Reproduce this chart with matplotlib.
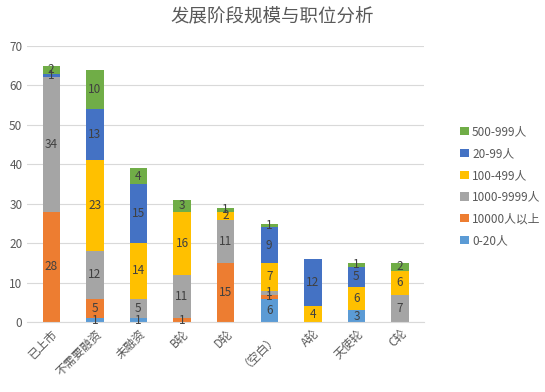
import matplotlib
matplotlib.use("Agg")
import matplotlib.pyplot as plt
import numpy as np

plt.rcParams['font.family'] = ['Noto Sans CJK SC', 'DejaVu Sans']

categories = ['已上市', '不需要融资', '未融资', 'B轮', 'D轮', '（空白）', 'A轮', '天使轮', 'C轮']
series_names = ['0-20人', '10000人以上', '1000-9999人', '100-499人', '20-99人', '500-999人']
s_0_20 = [0, 1, 1, 0, 0, 6, 0, 3, 0]
s_10000 = [28, 5, 0, 1, 15, 1, 0, 0, 0]
s_1000_9999 = [34, 12, 5, 11, 11, 1, 0, 0, 7]
s_100_499 = [0, 23, 14, 16, 2, 7, 4, 6, 6]
s_20_99 = [1, 13, 15, 0, 0, 9, 12, 5, 0]
s_500_999 = [2, 10, 4, 3, 1, 1, 0, 1, 2]
colors = ['#5B9BD5', '#ED7D31', '#A5A5A5', '#FFC000', '#4472C4', '#70AD47']

series = [s_0_20, s_10000, s_1000_9999, s_100_499, s_20_99, s_500_999]

fig = plt.figure(figsize=(5.45, 3.92), dpi=100)
ax = fig.add_axes([0.05, 0.178, 0.728, 0.705])
x = np.arange(len(categories))
bottom = np.zeros(len(categories))
handles = []
for name, vals, c in zip(series_names, series, colors):
    vals = np.array(vals, dtype=float)
    bars = ax.bar(x, vals, 0.4, bottom=bottom, color=c, label=name)
    handles.append(bars)
    for xi, v, b in zip(x, vals, bottom):
        if v > 0:
            ax.text(xi, b + v / 2, f'{int(v)}', ha='center', va='center',
                    fontsize=8.5, color='#404040')
    bottom += vals

ax.set_ylim(0, 70)
ax.set_xlim(-0.55, len(categories) - 0.45)
ax.set_yticks(range(0, 71, 10))
ax.yaxis.grid(True, color='#D9D9D9', linewidth=0.8)
ax.set_axisbelow(True)
for s in ['top', 'right', 'left']:
    ax.spines[s].set_visible(False)
ax.spines['bottom'].set_color('#D9D9D9')
ax.tick_params(axis='both', length=0, labelsize=8.5, colors='#595959')
ax.set_xticks(x)
ax.set_xticklabels(categories, rotation=45, ha='right', rotation_mode='anchor')

fig.suptitle('发展阶段规模与职位分析', x=0.5, y=0.98, fontsize=13.3, color='#595959')

leg = fig.legend(handles[::-1], series_names[::-1], loc='center left',
                 bbox_to_anchor=(0.825, 0.525), frameon=False, fontsize=8.5,
                 handlelength=0.7, handleheight=0.7, handletextpad=0.3,
                 labelspacing=0.75)
for t in leg.get_texts():
    t.set_color('#595959')

fig.savefig('out.png', dpi=100)
